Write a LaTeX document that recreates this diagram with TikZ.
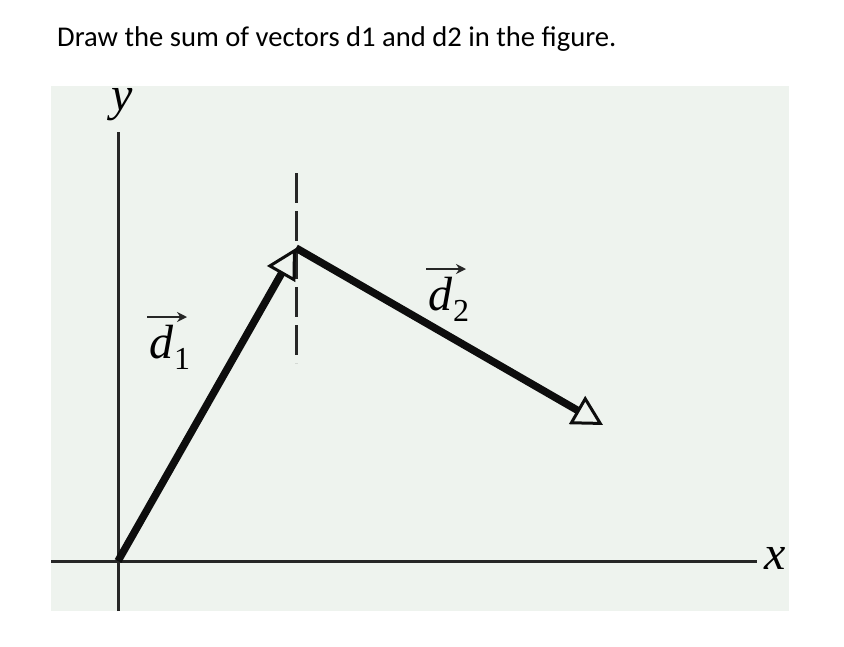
\documentclass[tikz,border=0pt]{standalone}
\usepackage[no-math]{fontspec}
\newfontfamily\titlefont{Carlito}
\newfontfamily\labfont{Liberation Serif}
\usetikzlibrary{arrows.meta,positioning}
\definecolor{panel}{HTML}{EEF3EE}
\newcommand{\subname}[2]{{\itshape #1}\kern1pt\raisebox{-0.22em}{\fontsize{32}{32}\selectfont #2}}

\begin{document}
\begin{tikzpicture}[x=1pt,y=-1pt,
  axis/.style={line width=3pt,black!85},
  vect/.style={line width=7.5pt,black!95,
    -{Triangle[open,length=30pt,width=32pt,line width=3pt]}},
  guide/.style={line width=3pt,black!85,dash pattern=on 30pt off 8pt},
  overarrow/.style={line width=2.8pt,black!85,-{Stealth[length=10pt,width=10pt]}},
  lbl/.style={font=\labfont\fontsize{48}{48}\selectfont,inner sep=0pt}]
 \useasboundingbox (0,0) rectangle (844,646);
 \fill[panel] (51,86) rectangle (789,611);
 \node[anchor=west,inner sep=0pt,font=\titlefont\fontsize{28.6}{32}\selectfont]
   (title) at (57,39) {Draw the sum of vectors d1 and d2 in the figure.};

 % axes
 \coordinate (O) at (118,561);
 \coordinate (ytop) at (118,132);
 \coordinate (ybot) at (118,611);
 \coordinate (xleft) at (51,561);
 \coordinate (xright) at (757,561);
 \draw[axis] (ybot) -- (ytop);
 \draw[axis] (xleft) -- (xright);
 \node[lbl] (ylab) at (122,105) {\itshape y};
 \node[lbl] (xlab) at (775,558) {\itshape x};

 % dashed guide through the tip of d1
 \coordinate (gtop) at (296,173);
 \coordinate (gbot) at (296,363);
 \draw[guide] (gtop) -- (gbot);

 % vectors
 \coordinate (V) at (296,248);
 \coordinate (E) at (603,425);
 \draw[vect] (O) -- (V);
 \draw[vect] (V) -- (E);
 \node[lbl,anchor=north west] (d1) at (149,325) {\subname{d}{1}};
 \node[lbl,anchor=north west] (d2) at (428,277) {\subname{d}{2}};
 \draw[overarrow] ([shift={(-2,-8)}]d1.north west) -- ++(40,0);
 \draw[overarrow] ([shift={(-2,-8)}]d2.north west) -- ++(40,0);
\end{tikzpicture}
\end{document}
